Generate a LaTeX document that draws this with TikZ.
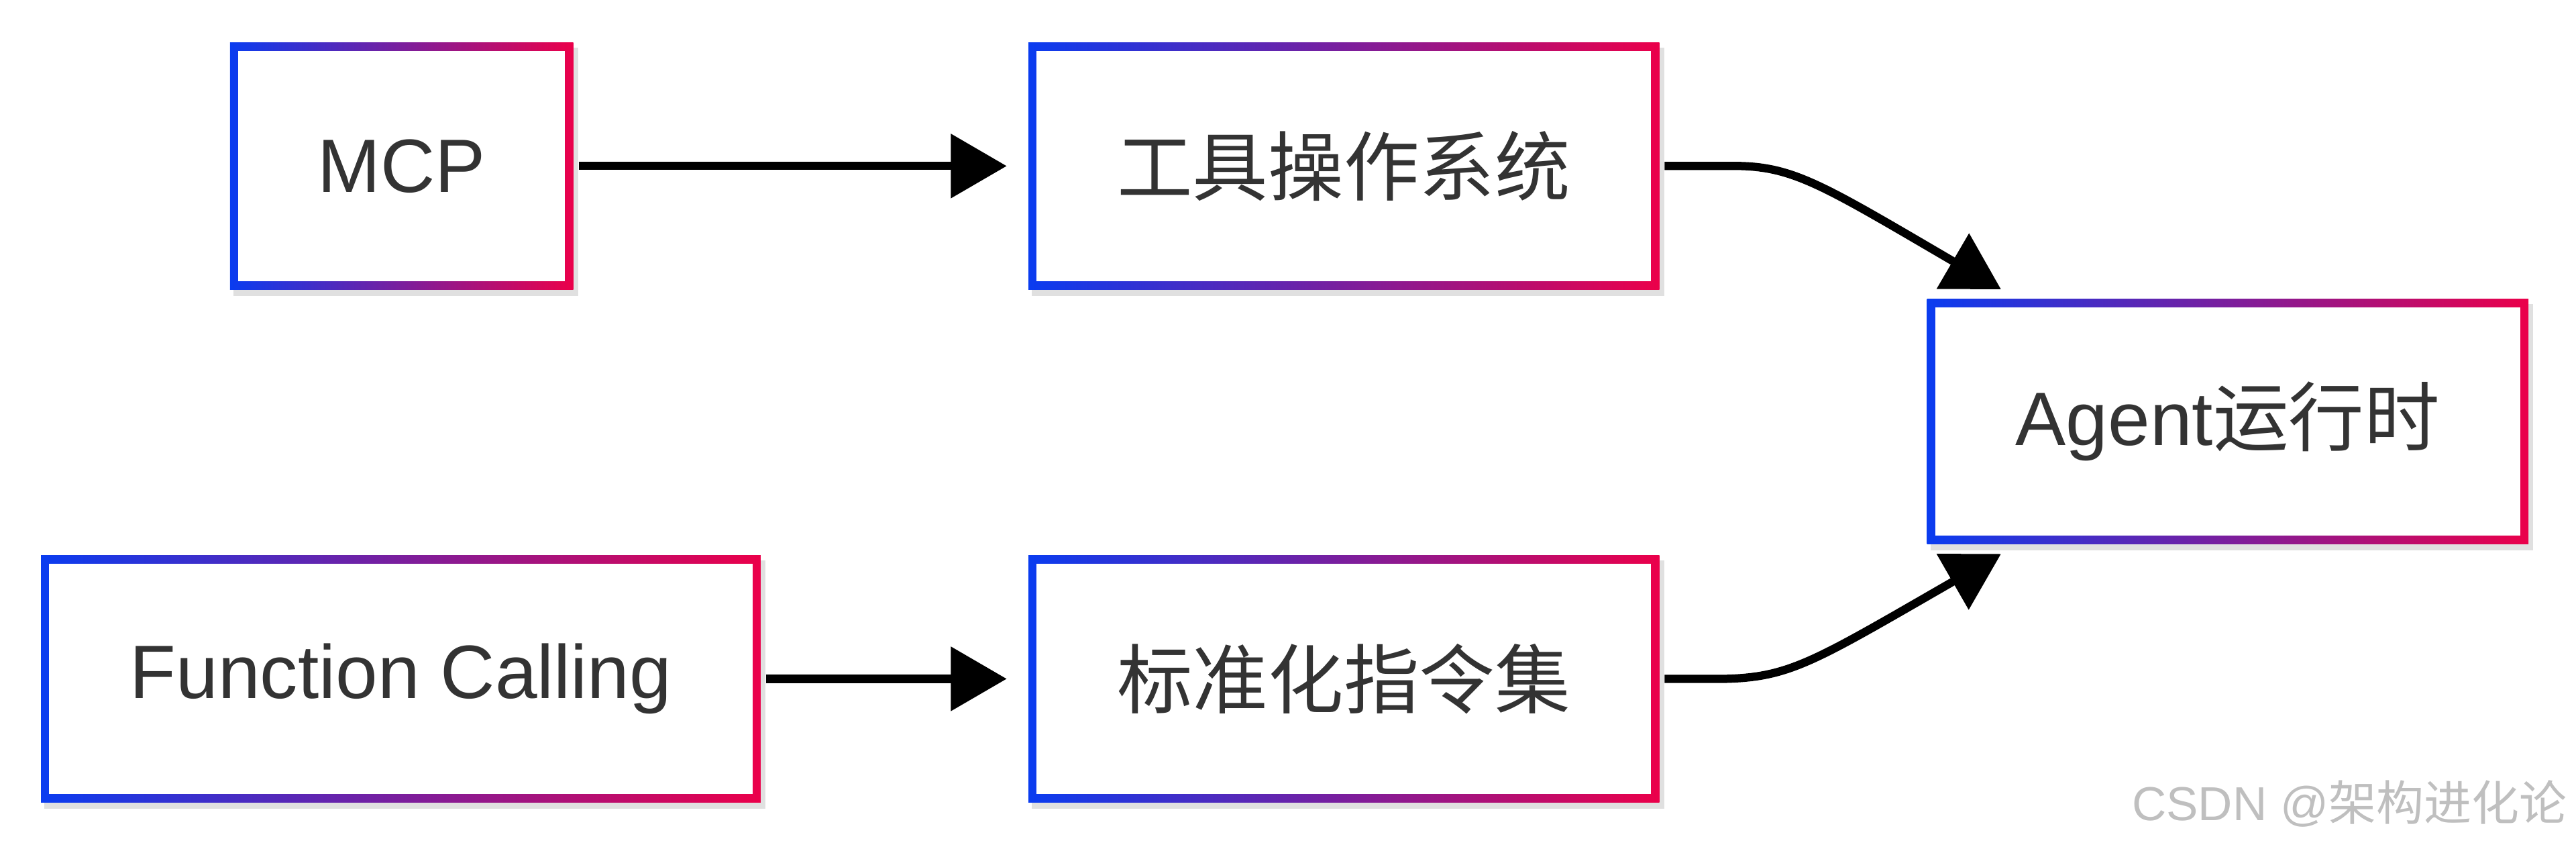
\documentclass[tikz,border=0pt]{standalone}
\usepackage{fontspec}
\setmainfont{Liberation Sans}
\newfontfamily\cjk{Noto Sans CJK SC}
\usetikzlibrary{arrows.meta}
\definecolor{gb}{HTML}{0A3CF0}
\definecolor{gr}{HTML}{EB004A}
\definecolor{txt}{HTML}{333333}
\tikzset{
  gbox/.style={minimum width=#1, minimum height=150pt, inner sep=0pt, font=\fontsize{46}{50}\selectfont, text=txt,
    path picture={\fill[left color=gb,right color=gr] (path picture bounding box.south west) rectangle (path picture bounding box.north east);
      \fill[white] ([shift={(5pt,5pt)}]path picture bounding box.south west) rectangle ([shift={(-5pt,-5pt)}]path picture bounding box.north east);}},
  con/.style={line width=5pt, -{Triangle[length=34pt,width=38pt]}}
}
\begin{document}
\begin{tikzpicture}[x=1pt,y=-1pt]
\useasboundingbox[fill=white] (0,0) rectangle (1568,515);
\foreach \a/\b/\c/\d in {140/26/349/176,626/26/1010/176,1173/182/1539/331,25/338/463/488,626/338/1010/488}
  \fill[black!12] (\a+2,\b+3) rectangle (\c+3,\d+4);
\node[gbox=209pt] (mcp) at (244.5,101) {MCP};
\node[gbox=384pt] (tool) at (818,101) {\cjk 工具操作系统};
\node[gbox=366pt, minimum height=149pt] (agent) at (1356,256.5) {Agent\cjk 运行时};
\node[gbox=438pt] (fc) at (244,413) {Function Calling};
\node[gbox=384pt] (std) at (818,413) {\cjk 标准化指令集};
\draw[con] (mcp.east) ++(3,0) -- ([xshift=-13pt]tool.west);
\draw[con] (fc.east) ++(3,0) -- ([xshift=-13pt]std.west);
\draw[con] (tool.east) ++(3,0) -- ++(37,0) .. controls (1090,100) and (1105,110) .. (1218,176);
\draw[con] (std.east) ++(3,0) -- ++(37,0) .. controls (1090,412) and (1105,402) .. (1218,337);
\node[anchor=east, text=black!25, font=\fontsize{29}{32}\selectfont] (wm) at (1566,489) {CSDN @\cjk 架构进化论};
\end{tikzpicture}
\end{document}
